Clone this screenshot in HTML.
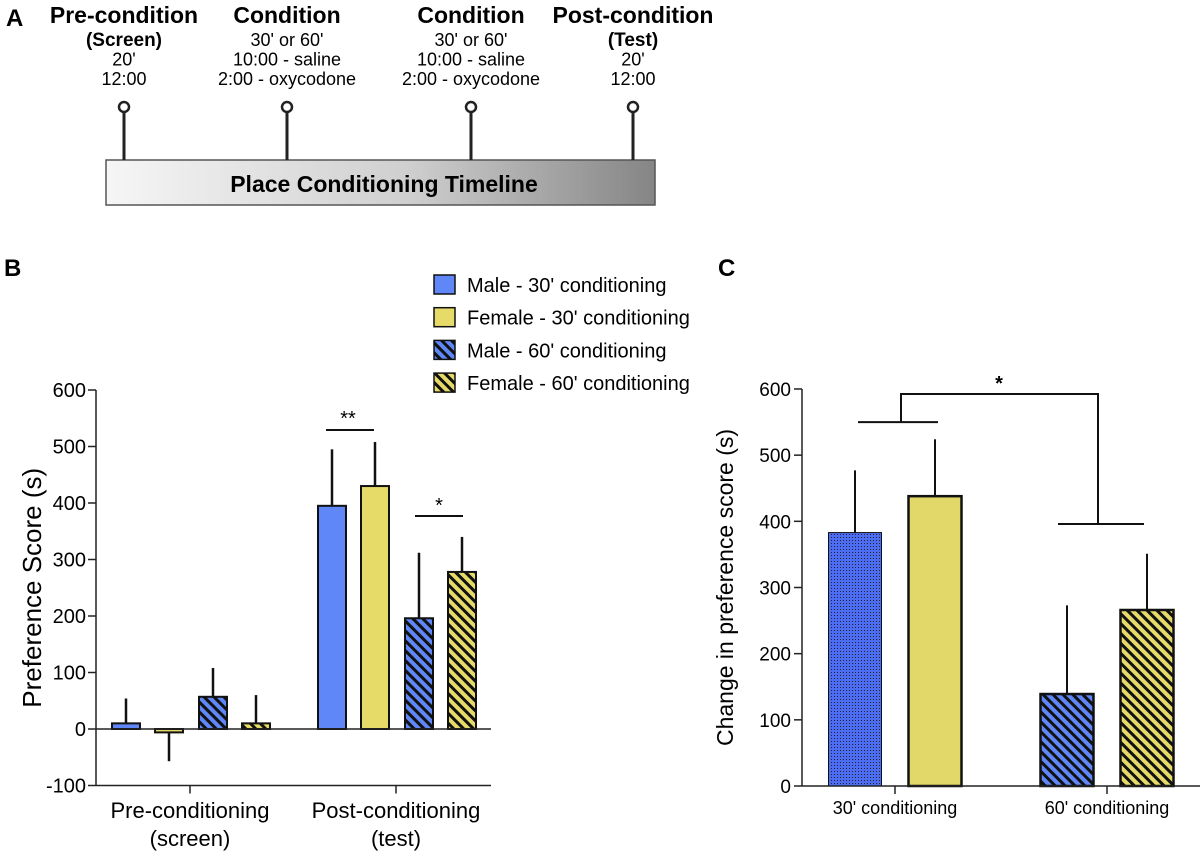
<!DOCTYPE html>
<html><head><meta charset="utf-8"><style>
html,body{margin:0;padding:0;background:#fff;}
svg{display:block;font-family:"Liberation Sans",sans-serif;}
.cond{font-family:"Liberation Sans Narrow","Liberation Sans",sans-serif;}
</style></head><body>
<svg id="fig" width="1200" height="851" viewBox="0 0 1200 851">
<defs>
<pattern id="hatchB" patternUnits="userSpaceOnUse" width="7" height="7" patternTransform="rotate(-45)">
<rect width="7" height="7" fill="#5f87f8"/><rect width="3" height="7" fill="#111"/></pattern>
<pattern id="hatchY" patternUnits="userSpaceOnUse" width="7" height="7" patternTransform="rotate(-45)">
<rect width="7" height="7" fill="#e6db69"/><rect width="3" height="7" fill="#111"/></pattern>
<pattern id="dots" patternUnits="userSpaceOnUse" width="3" height="3">
<rect width="3" height="3" fill="#4c6cf2"/><rect width="1" height="1" fill="#223"/></pattern>
<linearGradient id="tl" x1="0" x2="1"><stop offset="0" stop-color="#f6f6f6"/><stop offset="0.55" stop-color="#cfcfcf"/><stop offset="1" stop-color="#858585"/></linearGradient>
</defs>
<g class="cond">
<text x="6" y="26" font-size="24" font-weight="bold">A</text>
<rect x="106" y="160" width="549" height="45" fill="url(#tl)" stroke="#555" stroke-width="1.5"/>
<text x="384" y="192" font-size="23" font-weight="bold" text-anchor="middle">Place Conditioning Timeline</text>
</g>
<g id="pins"></g>
<text x="4" y="276" font-size="24" font-weight="bold">B</text>
<text x="718" y="276" font-size="24" font-weight="bold">C</text>
<g id="legend"></g>
<g id="chartB"></g>
<g id="chartC"></g>
</svg>
<script>
const NS="http://www.w3.org/2000/svg";
function mk(parent,tag,attrs,txt){const e=document.createElementNS(NS,tag);for(const k in attrs)e.setAttribute(k,attrs[k]);if(txt!==undefined)e.textContent=txt;parent.appendChild(e);return e;}

const pinTitles=["Pre-condition","Condition","Condition","Post-condition"];
const pinSub=[["(Screen)","20'","12:00"],["30' or 60'","10:00 - saline","2:00 - oxycodone"],["30' or 60'","10:00 - saline","2:00 - oxycodone"],["(Test)","20'","12:00"]];
const pinBoldSub=[true,false,false,true];
const pinX=[124,287,471,633];
const pins=document.getElementById('pins');
pinX.forEach((x,i)=>{
  const g=mk(pins,'g',{class:'cond'});
  
  
  mk(g,'line',{x1:x,y1:112,x2:x,y2:160,stroke:'#222','stroke-width':3});
  mk(g,'circle',{cx:x,cy:107,r:5,fill:'#fff',stroke:'#222','stroke-width':2.5});
  mk(g,'text',{x:x,y:23,'font-size':23,'font-weight':'bold','text-anchor':'middle'},pinTitles[i]);
  pinSub[i].forEach((s,j)=>{
    mk(g,'text',{x:x,y:46+j*19.5,'font-size':(pinBoldSub[i]&&j==0)?19:18,'font-weight':(pinBoldSub[i]&&j==0)?'bold':'normal','text-anchor':'middle'},s);
  });
});

const legendLabels=["Male - 30' conditioning","Female - 30' conditioning","Male - 60' conditioning","Female - 60' conditioning"];
const fills=["#5f87f8","#e6db69","url(#hatchB)","url(#hatchY)"];
const leg=document.getElementById('legend');
legendLabels.forEach((l,i)=>{
  const y=275+i*32.7;
  const r=mk(leg,'rect',{x:434,y:y,width:21,height:19,fill:fills[i],stroke:'#111','stroke-width':1.5});
  
  
  const t=mk(leg,'text',{x:467,y:y+17,'font-size':20},l);
  
  
});

const bCategories=["Pre-conditioning|(screen)","Post-conditioning|(test)"];
const bMale30=[10,395];
const bFemale30=[-6,430];
const bMale60=[57,196];
const bFemale60=[10,278];
const bErrMale30=[54,495];
const bErrFemale30=[-57,508];
const bErrMale60=[108,312];
const bErrFemale60=[60,340];
const bTicks=[-100,0,100,200,300,400,500,600];

(function(){
  const g=document.getElementById('chartB');
  const y=v=>729-v*0.565;
  const axX=96;
  const catX=[190,396];
  const offs=[-64,-21,23,66];
  const bw=28;
  const series=[bMale30,bFemale30,bMale60,bFemale60];
  const errs=[bErrMale30,bErrFemale30,bErrMale60,bErrFemale60];
  const ya=mk(g,'line',{x1:axX,y1:y(600),x2:axX,y2:y(-100),stroke:'#222','stroke-width':1.5});
  
  bTicks.forEach(t=>{
    mk(g,'line',{x1:axX-8,y1:y(t),x2:axX,y2:y(t),stroke:'#222','stroke-width':1.5});
    const tx=mk(g,'text',{x:axX-10,y:y(t)+7,'font-size':20,'text-anchor':'end'},t);
    
  });
  const xb=mk(g,'line',{x1:axX,y1:y(-100),x2:491,y2:y(-100),stroke:'#222','stroke-width':1.5});
  
  const yt=mk(g,'text',{transform:`translate(41,${y(250)}) rotate(-90)`,'font-size':26,'text-anchor':'middle'},'Preference Score (s)');
  
  catX.forEach((cx,ci)=>{
    mk(g,'line',{x1:cx,y1:y(-100),x2:cx,y2:y(-100)+8,stroke:'#222','stroke-width':1.5});
    const parts=bCategories[ci].split('|');
    const t1=mk(g,'text',{x:cx,y:818,'font-size':22,'text-anchor':'middle'},parts[0]);
    
    mk(g,'text',{x:cx,y:846,'font-size':22,'text-anchor':'middle'},parts[1]);
    series.forEach((s,si)=>{
      const v=s[ci];const x0=cx+offs[si]-bw/2;
      const e=errs[si][ci];
      mk(g,'line',{x1:cx+offs[si],y1:y(v),x2:cx+offs[si],y2:y(e),stroke:'#111','stroke-width':2.5});
      const r=mk(g,'rect',{x:x0,y:Math.min(y(v),y(0)),width:bw,height:Math.abs(y(v)-y(0)),fill:fills[si],stroke:'#111','stroke-width':2});
      
      
    });
  });
  const zl=mk(g,'line',{x1:axX,y1:y(0),x2:491,y2:y(0),stroke:'#222','stroke-width':1.5});
  
  mk(g,'line',{x1:326,y1:430,x2:374,y2:430,stroke:'#111','stroke-width':2});
  const s1=mk(g,'text',{x:348,y:425,'font-size':20,'text-anchor':'middle'},'**');
  
  mk(g,'line',{x1:415,y1:516,x2:463,y2:516,stroke:'#111','stroke-width':2});
  const s2=mk(g,'text',{x:439,y:512,'font-size':20,'text-anchor':'middle'},'*');
  
})();

const cCategories=["30' conditioning","60' conditioning"];
const cMale=[383,139];
const cFemale=[438,266];
const cErrMale=[477,273];
const cErrFemale=[524,351];
const cTicks=[0,100,200,300,400,500,600];

(function(){
  const g=document.getElementById('chartC');
  const y=v=>786-v*0.6617;
  const axX=802;
  const catX=[895,1107];
  const offs=[-40,40];
  const bw=53;
  const cf=[["url(#dots)","#e2d869"],["url(#hatchB)","url(#hatchY)"]];
  const ya=mk(g,'line',{x1:axX,y1:y(600),x2:axX,y2:y(0),stroke:'#222','stroke-width':1.5});
  
  cTicks.forEach(t=>{
    mk(g,'line',{x1:axX-8,y1:y(t),x2:axX,y2:y(t),stroke:'#222','stroke-width':1.5});
    const tx=mk(g,'text',{x:axX-11,y:y(t)+7,'font-size':19,'text-anchor':'end'},t);
    
  });
  const yt=mk(g,'text',{transform:`translate(733,${y(300)}) rotate(-90)`,'font-size':23,'text-anchor':'middle'},'Change in preference score (s)');
  
  const series=[cMale,cFemale],errs=[cErrMale,cErrFemale];
  catX.forEach((cx,ci)=>{
    mk(g,'line',{x1:cx,y1:y(0),x2:cx,y2:y(0)+8,stroke:'#222','stroke-width':1.5});
    const t=mk(g,'text',{x:cx,y:814,'font-size':18,'text-anchor':'middle'},cCategories[ci]);
    
    series.forEach((s,si)=>{
      const v=s[ci];const bx=cx+offs[si];
      mk(g,'line',{x1:bx,y1:y(v),x2:bx,y2:y(errs[si][ci]),stroke:'#111','stroke-width':2});
      const r=mk(g,'rect',{x:bx-bw/2,y:y(v),width:bw,height:y(0)-y(v),fill:cf[ci][si],stroke:'#111','stroke-width':(ci==0&&si==0)?1:2.5});
      
      
    });
  });
  const xa=mk(g,'line',{x1:axX,y1:y(0),x2:1200,y2:y(0),stroke:'#222','stroke-width':1.5});
  
  const br=mk(g,'path',{d:`M858 ${y(550)} H938 M901 ${y(550)} V394 H1098 V524 M1058 524 H1144`,fill:'none',stroke:'#111','stroke-width':2});
  
  const st=mk(g,'text',{x:999,y:390,'font-size':20,'font-weight':'bold','text-anchor':'middle'},'*');
  
})();
</script>
</body></html>
